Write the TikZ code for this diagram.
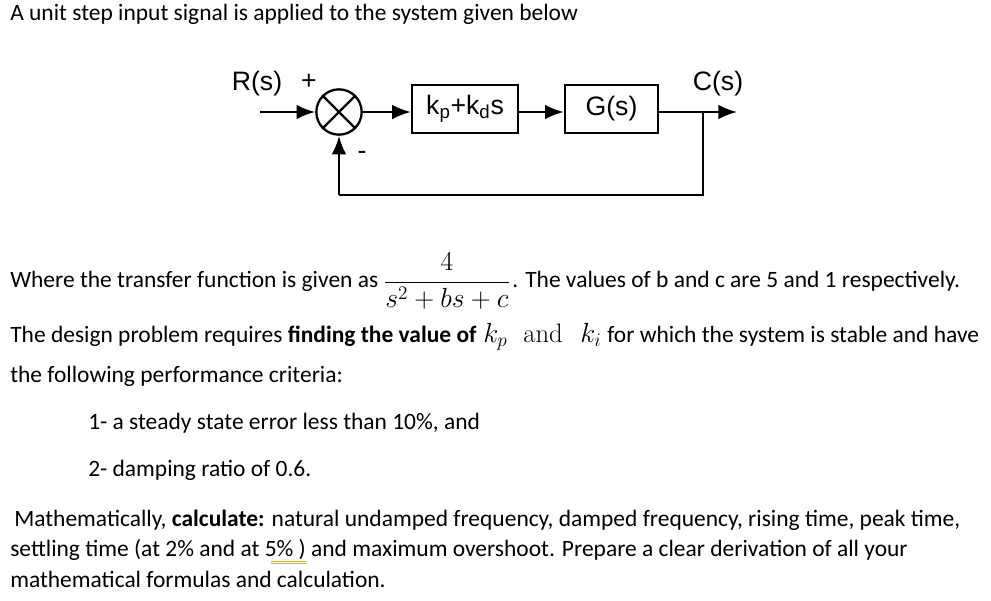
\documentclass[tikz,border=0pt]{standalone}
\usepackage{fontspec}
\setmainfont{Carlito}
\newfontfamily\arialf{Liberation Sans}
\usetikzlibrary{arrows.meta}
\begin{document}
\begin{tikzpicture}[x=0.75pt,y=-0.75pt,
  txt/.style={anchor=base west,inner sep=0pt,font=\fontsize{17.6}{20}\selectfont},
  blk/.style={draw,line width=1.7pt,minimum width=79.5pt,minimum height=36pt,font=\arialf\fontsize{20}{24}\selectfont},
  lbl/.style={font=\arialf\fontsize{20}{24}\selectfont,inner sep=0pt},
  sig/.style={line width=1.7pt,-{Latex[length=14pt,width=11pt]}},
  ln/.style={line width=1.7pt}]
\useasboundingbox (0,0) rectangle (991,600);
\node[txt] (t1) at (10,20) {A unit step input signal is applied to the system given below};
% block diagram
\coordinate (in) at (260,112);
\node[draw,circle,line width=1.7pt,minimum size=34pt,inner sep=0pt] (sum) at (339,112) {};
\draw[line width=1.7pt] (sum.north west) -- (sum.south east) (sum.north east) -- (sum.south west);
\node[blk,minimum width=79.5pt] (k) at (465,109) {k\textsubscript{p}+k\textsubscript{d}s};
\node[blk,minimum width=70pt] (g) at (611.5,109) {G(s)};
\coordinate (out) at (737,112);
\coordinate (br) at (703,112);
\coordinate (fb1) at (703,195);
\coordinate (fb2) at (339,195);
\draw[sig] (in) -- (sum.west);
\draw[sig] (sum.east) -- (k.west |- sum.east);
\draw[sig] (k.east |- sum.east) -- (g.west |- sum.east);
\draw[sig] (g.east |- sum.east) -- (out);
\draw[ln] (br) -- (fb1) -- (fb2);
\draw[sig] (fb2) -- (sum.south);
\node[lbl] (r) at (257,84) {R(s)};
\node[lbl] (plus) at (309,82) {+};
\node[lbl] (minus) at (362,155) {-};
\node[lbl] (c) at (718,84) {C(s)};
% text
\node[txt] (t2) at (10,287) {Where the transfer function is given as};
\node[inner sep=0pt,font=\fontsize{21}{24}\selectfont] (fr) at (447,281) {$\displaystyle\frac{4}{s^{2}+bs+c}$};
\node[txt] (t2b) at (512,287) {. The values of b and c are 5 and 1 respectively.};
\node[txt] (t3) at (10,342) {The design problem requires \textbf{finding the value of}};
\node[txt,font=\fontsize{21}{24}\selectfont] (kp) at (483,342) {$k_p$};
\node[txt,font=\fontsize{20}{24}\selectfont] (and) at (523,342) {\fontspec{Latin Modern Roman}and};
\node[txt,font=\fontsize{21}{24}\selectfont] (ki) at (580,342) {$k_i$};
\node[txt] (t3b) at (607,342) {for which the system is stable and have};
\node[txt] (t4) at (10,382) {the following performance criteria:};
\node[txt] (t5) at (88,429) {1- a steady state error less than 10\%, and};
\node[txt] (t6) at (88,476) {2- damping ratio of 0.6.};
\node[txt] (t7) at (14,526) {Mathematically, \textbf{calculate:} natural undamped frequency, damped frequency, rising time, peak time,};
\node[txt] (t8) at (10,556) {settling time (at 2\% and at 5\% ) and maximum overshoot. Prepare a clear derivation of all your};
\node[txt] (t9) at (10,587) {mathematical formulas and calculation.};
\draw[color=brown!60!yellow,line width=0.6pt] (271,561) -- (306,561) (271,563) -- (306,563);
\end{tikzpicture}
\end{document}
